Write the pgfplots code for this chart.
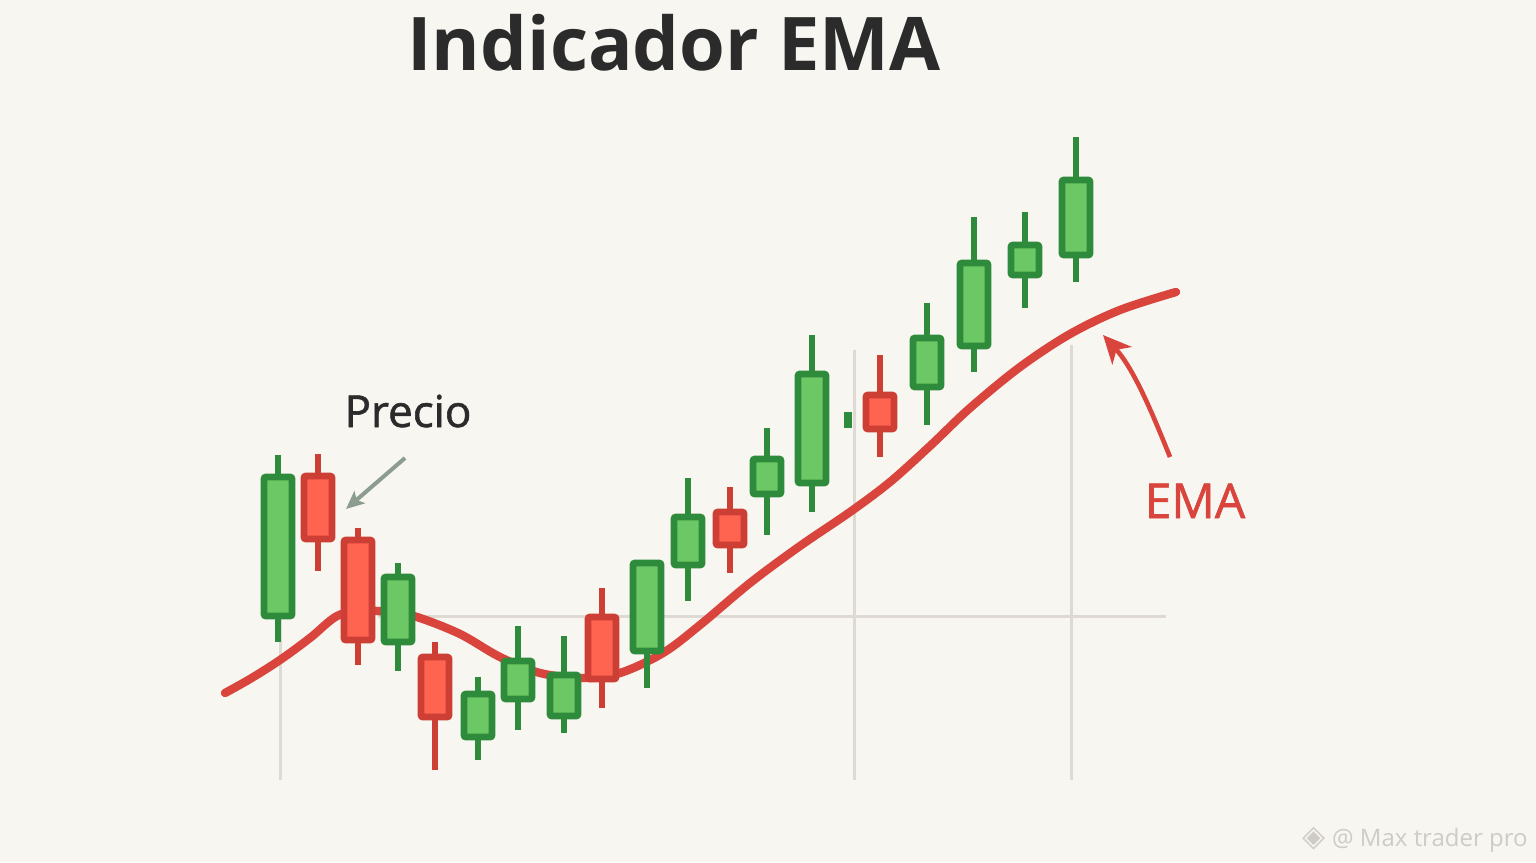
\documentclass[border=0pt]{standalone}
\usepackage{fontspec}
\setmainfont{Open Sans}
\newfontfamily\medfont[FakeBold=1.3]{Open Sans}
\newfontfamily\symfont{DejaVu Sans}
\usepackage{pgfplots}
\pgfplotsset{compat=1.18}
\usepgfplotslibrary{statistics}
\usetikzlibrary{arrows.meta}

\definecolor{bg}{HTML}{F8F6F1}
\definecolor{gridc}{HTML}{DEDAD3}
\definecolor{gdark}{HTML}{2E8B3C}
\definecolor{glight}{HTML}{6CC864}
\definecolor{rdark}{HTML}{CD3E34}
\definecolor{rlight}{HTML}{FF6450}
\definecolor{emac}{HTML}{D9453C}
\definecolor{titlec}{HTML}{2B2B2B}
\definecolor{arrowg}{HTML}{8C9C8E}
\definecolor{wmark}{HTML}{CFCBC5}

% one candle: x, high, body top, body bottom, low (all in picture pixels, y down)
\newcommand{\candle}[6]{%
  \addplot[#6, boxplot prepared={draw position=#1, lower whisker=#2,
    lower quartile=#3, median=#3, upper quartile=#4, upper whisker=#5,
    box extend=28, whisker extend=0}] coordinates {};}

\pgfplotsset{
  bull/.style={boxplot/every box/.style={draw=gdark, fill=glight, line width=3.4pt, rounded corners=1pt},
    boxplot/every whisker/.style={draw=gdark, line width=2.7pt},
    boxplot/every median/.style={draw=none}},
  bear/.style={boxplot/every box/.style={draw=rdark, fill=rlight, line width=3.4pt, rounded corners=1pt},
    boxplot/every whisker/.style={draw=rdark, line width=2.7pt},
    boxplot/every median/.style={draw=none}},
}

\begin{document}
\begin{tikzpicture}
\begin{axis}[
    scale only axis, width=768pt, height=431pt,
    xmin=0, xmax=1536, ymin=0, ymax=862, y dir=reverse,
    hide axis, clip=false,
    boxplot/draw direction=y,
]
  % background
  \fill[bg] (axis cs:0,0) rectangle (axis cs:1536,862);

  % grid lines
  \addplot[gridc, line width=1.5pt] coordinates {(280,616) (280,780)};
  \addplot[gridc, line width=1.5pt] coordinates {(854,350) (854,780)};
  \addplot[gridc, line width=1.5pt] coordinates {(1071,345) (1071,780)};
  \addplot[gridc, line width=1.5pt] coordinates {(378,616) (1166,616)};

  % EMA
  \addplot[emac, line width=4.2pt, smooth, tension=0.55, line cap=round] coordinates {
    (225,693) (250,679) (280,660) (310,638) (337,616) (362,611) (390,612)
    (417,617) (460,634) (500,657) (540,673) (583,678) (620,673) (663,653)
    (700,625) (750,583) (800,546) (850,512) (890,482) (930,446) (970,408)
    (1020,367) (1070,334) (1120,310) (1176,292)
  };

  % candles
  \candle{278}{455}{477}{616}{642}{bull}
  \candle{318}{454}{476}{539}{571}{bear}
  \candle{358}{528}{540}{640}{665}{bear}
  \candle{398}{563}{577}{642}{671}{bull}
  \candle{435}{642}{657}{717}{770}{bear}
  \candle{478}{677}{694}{737}{760}{bull}
  \candle{518}{626}{661}{699}{730}{bull}
  \candle{564}{636}{675}{716}{733}{bull}
  \candle{602}{588}{617}{679}{708}{bear}
  \candle{647}{561}{563}{651}{688}{bull}
  \candle{688}{478}{517}{565}{601}{bull}
  \candle{730}{487}{512}{545}{573}{bear}
  \candle{767}{428}{459}{494}{535}{bull}
  \candle{812}{335}{374}{483}{512}{bull}
  \addplot[gdark, line width=4pt] coordinates {(848,412) (848,428)};
  \candle{880}{355}{395}{429}{457}{bear}
  \candle{927}{303}{338}{387}{425}{bull}
  \candle{974}{217}{263}{346}{372}{bull}
  \candle{1025}{212}{245}{275}{308}{bull}
  \candle{1076}{137}{180}{255}{282}{bull}

  % title
  \node[anchor=base, text=titlec, font=\fontsize{37}{44}\selectfont\bfseries]
    at (axis cs:674,70) {Indicador EMA};

  % Precio label and arrow
  \node[anchor=base, text=titlec, font=\medfont\fontsize{22}{26}\selectfont]
    at (axis cs:408,427) {Precio};
  \draw[arrowg, line width=2pt, -{Stealth[length=9pt, width=8pt, inset=2pt]}]
    (axis cs:405,458) -- (axis cs:346,509);

  % EMA label and arrow
  \node[anchor=base, text=emac, font=\medfont\fontsize{24}{28}\selectfont]
    at (axis cs:1195,518) {EMA};
  \draw[emac, line width=2.3pt, -{Stealth[length=14pt, width=13pt, inset=4pt]}]
    (axis cs:1170,457) .. controls (axis cs:1155,420) and (axis cs:1135,370) .. (axis cs:1103,335);

  % watermark
  \node[anchor=base east, text=wmark, font=\fontsize{12}{14}\selectfont, inner sep=0pt]
    at (axis cs:1528,846) {{\symfont\fontsize{15}{16}\selectfont ◈} @ Max trader pro};
\end{axis}
\end{tikzpicture}
\end{document}
